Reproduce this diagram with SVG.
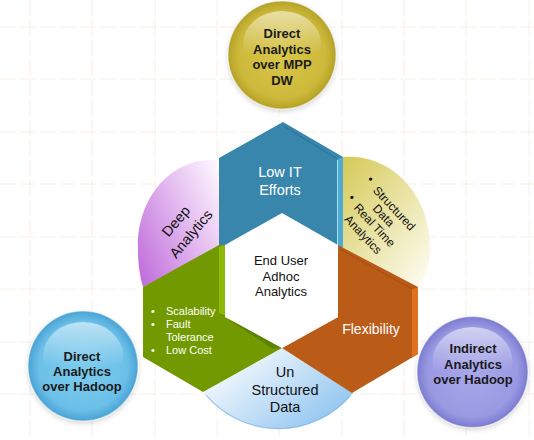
<svg xmlns="http://www.w3.org/2000/svg" width="534" height="440" viewBox="0 0 534 440">
<defs>
  <linearGradient id="gPurple" x1="0" y1="0.85" x2="1" y2="0.15">
    <stop offset="0" stop-color="#C271DC"/>
    <stop offset="1" stop-color="#FFF8FF"/>
  </linearGradient>
  <linearGradient id="gYellow" x1="0" y1="0" x2="0.9" y2="1">
    <stop offset="0" stop-color="#D4C853"/>
    <stop offset="1" stop-color="#FDFCF0"/>
  </linearGradient>
  <linearGradient id="gLBlue" x1="0" y1="0.2" x2="1" y2="0.9">
    <stop offset="0" stop-color="#FFFFFF"/>
    <stop offset="1" stop-color="#86BFEE"/>
  </linearGradient>
  <radialGradient id="cTop" cx="0.5" cy="0.5" r="0.5">
    <stop offset="0" stop-color="#D8C64A"/>
    <stop offset="0.8" stop-color="#CDB93A"/>
    <stop offset="0.95" stop-color="#BCA82C"/>
    <stop offset="1" stop-color="#B09D24"/>
  </radialGradient>
  <radialGradient id="cLeft" cx="0.5" cy="0.5" r="0.5">
    <stop offset="0" stop-color="#7CCCEE"/>
    <stop offset="0.8" stop-color="#6CC0E8"/>
    <stop offset="0.95" stop-color="#52AADA"/>
    <stop offset="1" stop-color="#44A0D2"/>
  </radialGradient>
  <radialGradient id="cRight" cx="0.5" cy="0.5" r="0.5">
    <stop offset="0" stop-color="#A8A8EA"/>
    <stop offset="0.8" stop-color="#9A9AE3"/>
    <stop offset="0.95" stop-color="#8484D6"/>
    <stop offset="1" stop-color="#7878CC"/>
  </radialGradient>
  <linearGradient id="gHi" x1="0" y1="0" x2="0" y2="1">
    <stop offset="0" stop-color="#FFFFFF" stop-opacity="0.55"/>
    <stop offset="0.65" stop-color="#FFFFFF" stop-opacity="0"/>
  </linearGradient>
  <filter id="shadow" x="-20%" y="-20%" width="140%" height="140%">
    <feDropShadow dx="0" dy="2" stdDeviation="2.5" flood-color="#888" flood-opacity="0.35"/>
  </filter>
</defs>
<style>
  .grid line { stroke: #F8EEE6; stroke-width: 1; stroke-dasharray: 16 4; }
  text { font-family: "Liberation Sans", Arial, sans-serif; }
  .ctext { font-size: 13px; font-weight: bold; fill: #1A1A1A; text-anchor: middle; }
  .wtext { fill: #FFFFFF; text-anchor: middle; }
  .btext { fill: #111111; text-anchor: middle; }
  .hi { fill: url(#gHi); }
  .rim { stroke: #FFFFFF; stroke-opacity: 0.45; stroke-width: 1.5; }
</style>

<rect width="534" height="440" fill="#FFFFFF"/>
<g class="grid">
  <line x1="30" y1="0" x2="30" y2="440"/>
  <line x1="92" y1="0" x2="92" y2="440"/>
  <line x1="155" y1="0" x2="155" y2="440"/>
  <line x1="217" y1="0" x2="217" y2="440"/>
  <line x1="279" y1="0" x2="279" y2="440"/>
  <line x1="342" y1="0" x2="342" y2="440"/>
  <line x1="404" y1="0" x2="404" y2="440"/>
  <line x1="466" y1="0" x2="466" y2="440"/>
  <line x1="529" y1="0" x2="529" y2="440"/>
  <line x1="0" y1="27" x2="534" y2="27"/>
  <line x1="0" y1="79" x2="534" y2="79"/>
  <line x1="0" y1="132" x2="534" y2="132"/>
  <line x1="0" y1="184" x2="534" y2="184"/>
  <line x1="0" y1="237" x2="534" y2="237"/>
  <line x1="0" y1="289" x2="534" y2="289"/>
  <line x1="0" y1="342" x2="534" y2="342"/>
  <line x1="0" y1="394" x2="534" y2="394"/>
</g>

<g id="deep-analytics">
  <path d="M143,287 C140,277 138,264 138,250 C136,200 170,156 219,160 L225,245 Z" fill="url(#gPurple)"/>
  <g transform="translate(183.4,227.5) rotate(-50)">
    <text class="btext" x="0" y="-4.8" font-size="14.5">Deep</text>
    <text class="btext" x="0" y="14.9" font-size="14.5">Analytics</text>
  </g>
</g>

<g id="structured-data">
  <path d="M343,157 C395,153 432,200 430,250 C430,265 425,278 418,287 L338,245 Z" fill="url(#gYellow)"/>
  <g transform="translate(395,209) rotate(47)" font-size="12">
    <text class="btext" x="-38.5" y="1.5">•</text>
    <text class="btext" x="-1" y="4.2">Structured</text>
    <text class="btext" x="-3" y="16.9">Data</text>
    <text class="btext" x="-38" y="27.5">•</text>
    <text class="btext" x="-2" y="30.2">Real Time</text>
    <text class="btext" x="-3" y="44.8">Analytics</text>
  </g>
</g>

<g id="unstructured-data">
  <path d="M203,392 A95,95 0 0 0 353,393 L282,348 Z" fill="url(#gLBlue)"/>
  <path d="M206,395 A95,95 0 0 0 350,396" fill="none" stroke="#7FB4E2" stroke-width="1.2" stroke-opacity="0.6"/>
  <text class="btext" x="285" y="377" font-size="14.5">Un</text>
  <text class="btext" x="285" y="395" font-size="14.5">Structured</text>
  <text class="btext" x="285" y="412" font-size="14.5">Data</text>
</g>

<g id="low-it-efforts">
  <polygon points="219,158 283,122 343,157 343,248 219,248" fill="#3886AC"/>
  <line x1="283" y1="125.5" x2="337" y2="159" stroke="#2C6F93" stroke-width="1.2" stroke-opacity="0.8"/>
  <polygon points="337,159.5 343,157 343,248 337,248" fill="#4EAAD3"/>
  <line x1="337.5" y1="160" x2="337.5" y2="248" stroke="#A5E0F5" stroke-width="1"/>
  <text class="wtext" x="280" y="177" font-size="14.5">Low IT</text>
  <text class="wtext" x="280" y="195" font-size="14.5">Efforts</text>
</g>

<g id="flexibility">
  <polygon points="338,245 418,287 418,354 352,393 282,348 338,317" fill="#BA5C18"/>
  <line x1="340" y1="249" x2="412" y2="289" stroke="#A44E10" stroke-width="1.2" stroke-opacity="0.8"/>
  <polygon points="412,289.5 418,287 418,354 412,357.5" fill="#E0721F"/>
  <text class="wtext" x="371" y="334" font-size="14">Flexibility</text>
</g>

<g id="scalability">
  <polygon points="143,287 219,245 225,245 225,317 282,348 203,392 143,357" fill="#729A00"/>
  <polygon points="219,247 225,245 225,316 219,313" fill="#8DB906"/>
  <polygon points="219,313 225,316 282,348 273,349" fill="#5D8200"/>
  <g font-size="11" fill="#FFFFFF">
    <text x="151" y="315">•</text>
    <text x="166" y="315">Scalability</text>
    <text x="151" y="328">•</text>
    <text x="166" y="328">Fault</text>
    <text x="166" y="341">Tolerance</text>
    <text x="151" y="353.5">•</text>
    <text x="166" y="353.5">Low Cost</text>
  </g>
</g>

<g id="end-user">
  <polygon points="282,213 338,245 338,317 282,348 225,317 225,245" fill="#FFFFFF"/>
  <text class="btext" x="281" y="265" font-size="13">End User</text>
  <text class="btext" x="281" y="280.5" font-size="13">Adhoc</text>
  <text class="btext" x="281" y="295.5" font-size="13">Analytics</text>
</g>

<g id="direct-mpp">
  <circle cx="282" cy="55" r="54" fill="url(#cTop)" class="rim" filter="url(#shadow)"/>
  <ellipse cx="282" cy="44" rx="39" ry="33" class="hi"/>
  <text class="ctext" x="282" y="38">Direct</text>
  <text class="ctext" x="282" y="53.5">Analytics</text>
  <text class="ctext" x="282" y="69">over MPP</text>
  <text class="ctext" x="282" y="85">DW</text>
</g>

<g id="direct-hadoop">
  <circle cx="83" cy="366" r="55" fill="url(#cLeft)" class="rim" filter="url(#shadow)"/>
  <ellipse cx="83" cy="356" rx="40" ry="34" class="hi"/>
  <text class="ctext" x="82" y="361">Direct</text>
  <text class="ctext" x="82" y="376">Analytics</text>
  <text class="ctext" x="82" y="391">over Hadoop</text>
</g>

<g id="indirect-hadoop">
  <circle cx="472.5" cy="372" r="55.5" fill="url(#cRight)" class="rim" filter="url(#shadow)"/>
  <ellipse cx="472.5" cy="361" rx="40" ry="34" class="hi"/>
  <text class="ctext" x="473" y="353">Indirect</text>
  <text class="ctext" x="473" y="368.5">Analytics</text>
  <text class="ctext" x="473" y="383.5">over Hadoop</text>
</g>

<g id="connectors"></g>
</svg>
